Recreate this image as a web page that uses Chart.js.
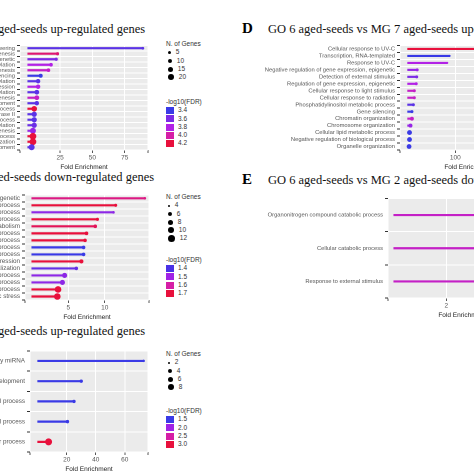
<!DOCTYPE html>
<html><head><meta charset="utf-8">
<script src="https://cdn.jsdelivr.net/npm/chart.js@4/dist/chart.umd.min.js"></script>
<style>
body{margin:0;width:474px;height:474px;overflow:hidden;position:relative;background:#fff;font-family:"Liberation Sans",Arial,sans-serif}
canvas{position:absolute}
.t{position:absolute;font-family:"Liberation Serif",serif;font-size:12.5px;color:#111;white-space:nowrap}
.L{position:absolute;font-family:"Liberation Serif",serif;font-weight:bold;font-size:15px}
.lg{position:absolute;font-size:6.5px;color:#333;line-height:8.3px}
.lg i{display:inline-block;width:8px;height:7px;margin-right:4px;vertical-align:middle}
.lg b{display:inline-block;background:#000;border-radius:50%;margin-right:5px;vertical-align:middle}
</style></head><body>
<div class="t" style="left:-2px;top:22px">ged-seeds up-regulated genes</div>
<div class="t" style="left:-2px;top:170px">ed-seeds down-regulated genes</div>
<div class="t" style="left:-2px;top:324px">ged-seeds up-regulated genes</div>
<div class="L" style="left:242px;top:20px">D</div>
<div class="t" style="left:268px;top:22px">GO 6 aged-seeds vs MG 7 aged-seeds up-regulated genes</div>
<div class="L" style="left:242px;top:171px">E</div>
<div class="t" style="left:268px;top:173px">GO 6 aged-seeds vs MG 2 aged-seeds down-regulated genes</div>

<div class="lg" style="left:166px;top:40px">N. of Genes<br>&nbsp;<b style="width:3px;height:3px"></b>5<br>&nbsp;<b style="width:4px;height:4px"></b>10<br>&nbsp;<b style="width:5px;height:5px"></b>15<br>&nbsp;<b style="width:6px;height:6px"></b>20</div>
<div class="lg" style="left:166px;top:98px">-log10(FDR)<br><i style="background:#3a3ae6"></i>3.4<br><i style="background:#7b2be6"></i>3.6<br><i style="background:#b222e6"></i>3.8<br><i style="background:#d61ea6"></i>4.0<br><i style="background:#e8103c"></i>4.2</div>
<div class="lg" style="left:166px;top:193px">N. of Genes<br>&nbsp;<b style="width:2px;height:2px"></b>4<br>&nbsp;<b style="width:4px;height:4px"></b>6<br>&nbsp;<b style="width:5px;height:5px"></b>8<br>&nbsp;<b style="width:6px;height:6px"></b>10<br>&nbsp;<b style="width:7px;height:7px"></b>12</div>
<div class="lg" style="left:166px;top:256px">-log10(FDR)<br><i style="background:#4a32e6"></i>1.4<br><i style="background:#a022e6"></i>1.5<br><i style="background:#d61ea6"></i>1.6<br><i style="background:#e8103c"></i>1.7</div>
<div class="lg" style="left:166px;top:350px">N. of Genes<br>&nbsp;<b style="width:2px;height:2px"></b>2<br>&nbsp;<b style="width:4px;height:4px"></b>4<br>&nbsp;<b style="width:5px;height:5px"></b>6<br>&nbsp;<b style="width:6px;height:6px"></b>8</div>
<div class="lg" style="left:166px;top:407px">-log10(FDR)<br><i style="background:#3a3ae6"></i>1.5<br><i style="background:#a022e6"></i>2.0<br><i style="background:#d61ea6"></i>2.5<br><i style="background:#e8103c"></i>3.0</div>

<script>
const catsA=["Regulation of flowering","Embryo sac morphogenesis","Gene silencing, epigenetic","Histone methylation","Megagametogenesis","Posttranscriptional silencing","Protein alkylation","Regulation of gene expression","DNA methylation","Gametophyte morphogenesis","Embryo development","Reproductive process","RNA polymerase II","Developmental process","Macromolecule methylation","Organ morphogenesis","Cellular metabolic process","Chromatin organization","Anatomical structure development"];
const valsA=[89,23,22,18,16,10,8,8,7,7,7,5,5,5,5,4,4,4,3];
const fdrA=[3.5,4.1,3.6,3.8,3.9,3.4,3.5,3.8,3.5,3.9,3.5,4.2,3.5,3.5,3.55,3.7,4.2,4.2,3.5];
const nA=[2,3,3,4,4,5,6,6,7,7,6,9,8,8,8,10,12,12,10];

const catsB=["Gene silencing, epigenetic","Lipid catabolic process","Glycerolipid process","Cellular lipid process","Phospholipid metabolism","Carbohydrate process","Oxoacid metabolic process","Organic acid process","Small molecule process","Regulation of gene expression","Lipid localization","Catabolic process","Metabolic process","Cellular catabolic process","Response to abiotic stress"];
const valsB=[15.5,11.5,11.2,9,8.7,7.5,7.3,7.1,7.1,6.8,6.1,4.5,4.2,3.6,3.5];
const fdrB=[1.65,1.7,1.5,1.7,1.68,1.7,1.7,1.4,1.4,1.7,1.45,1.5,1.5,1.7,1.7];
const nB=[2,3,2,3,4,4,4,4,4,5,4,7,7,10,10];

const catsC=["Gene silencing by miRNA","Post-embryonic development","Cellular developmental process","Multicellular organismal process","Cellular process"];
const valsC=[73,30,25,20.5,7.5];
const fdrC=[1.5,1.5,1.5,1.5,3.0];
const nC=[1,2,2,2,6];

const catsD=["Cellular response to UV-C","Transcription, RNA-templated","Response to UV-C","Negative regulation of gene expression, epigenetic","Detection of external stimulus","Regulation of gene expression, epigenetic","Cellular response to light stimulus","Cellular response to radiation","Phosphatidylinositol metabolic process","Gene silencing","Chromatin organization","Chromosome organization","Cellular lipid metabolic process","Negative regulation of biological process","Organelle organization"];
const valsD=[200,88,83,20,19,18,14,14,12,9,9,6,4,4,3];
const fdrD=[4.2,3.4,3.8,3.7,3.6,3.8,3.9,3.9,3.5,3.4,3.9,3.7,3.4,3.4,3.4];
const nD=[1,1,1,2,2,2,2,2,2,2,3,3,4,4,4];

const catsE=["Organonitrogen compound catabolic process","Cellular catabolic process","Response to external stimulus"];
const valsE=[6,6,6];
const fdrE=[3.9,3.9,3.9];
const nE=[1,1,1];

function col(t){
  const stops=[[58,58,230],[123,43,230],[178,34,230],[214,30,166],[232,16,60]];
  const p=Math.max(0,Math.min(1,t))*(stops.length-1),i=Math.min(stops.length-2,Math.floor(p)),f=p-i;
  const c=stops[i].map((v,k)=>Math.round(v+(stops[i+1][k]-v)*f));
  return `rgb(${c})`;
}
const bg={id:'bg',beforeDraw(c){const a=c.chartArea,x=c.ctx;x.save();x.fillStyle='#ebebeb';x.fillRect(a.left,a.top,a.right-a.left,a.bottom-a.top);x.restore();}};
function panel(o){
  const cv=document.createElement('canvas');
  const w=o.right-o.left+o.yw, h=o.bottom-o.top+22;
  cv.style.left=(o.left-o.yw)+'px';cv.style.top=o.top+'px';cv.style.width=w+'px';cv.style.height=h+'px';
  document.body.appendChild(cv);
  const colors=o.fdr.map(f=>col((f-o.fmin)/(o.fmax-o.fmin)));
  new Chart(cv,{data:{labels:o.cats,datasets:[
    {type:'bar',data:o.vals.map(v=>[0,v]),backgroundColor:colors,barThickness:1.5,grouped:false},
    {type:'line',data:o.vals,showLine:false,pointRadius:o.n.map(n=>o.r0+n*o.rk),pointBackgroundColor:colors,pointBorderWidth:0}]},
   options:{indexAxis:'y',responsive:false,devicePixelRatio:2,animation:false,layout:{padding:0},
    plugins:{legend:{display:false},tooltip:{enabled:false}},
    scales:{
     x:{min:o.min,max:o.max,afterFit(s){s.height=22},grid:{color:'#fff',lineWidth:1,drawTicks:true,tickColor:'#555',tickLength:3},border:{display:false},
        ticks:{stepSize:o.step,font:{size:6.5},color:'#555',padding:1,callback:v=>(Math.abs(v%o.step)<1e-9&&v>=0)?v:''},
        title:{display:true,text:'Fold Enrichment',font:{size:6.5},color:'#222',padding:1}},
     y:{offset:true,afterFit(s){s.width=o.yw},grid:{color:'#fff',tickColor:'#333',tickLength:3},border:{display:false},
        ticks:{font:{size:o.fs||6.3},color:'#555',padding:2,autoSkip:false}}}},plugins:[bg]});
}
panel({cats:catsA,vals:valsA,fdr:fdrA,n:nA,fmin:3.4,fmax:4.2,r0:1,rk:0.2,left:20,right:152,top:40,bottom:150,yw:110,min:-6,max:93,step:25,fs:5.8});
panel({cats:catsB,vals:valsB,fdr:fdrB,n:nB,fmin:1.4,fmax:1.7,r0:0.8,rk:0.25,left:25,right:153,top:189,bottom:300,yw:110,min:-0.93,max:16.07,step:5});
panel({cats:catsC,vals:valsC,fdr:fdrC,n:nC,fmin:1.5,fmax:3.0,r0:0.8,rk:0.45,left:30,right:152,top:345,bottom:452,yw:120,min:-5.3,max:76,step:20});
panel({cats:catsD,vals:valsD,fdr:fdrD,n:nD,fmin:3.4,fmax:4.2,r0:0.6,rk:0.45,left:400,right:540,top:40,bottom:150,yw:160,min:-16,max:269,step:100,fs:5.8});
panel({cats:catsE,vals:valsE,fdr:fdrE,n:nE,fmin:3.4,fmax:4.2,r0:0,rk:0.5,left:388,right:540,top:193,bottom:298,yw:160,min:-0.22,max:5.41,step:2,fs:5.8});
</script></body></html>
